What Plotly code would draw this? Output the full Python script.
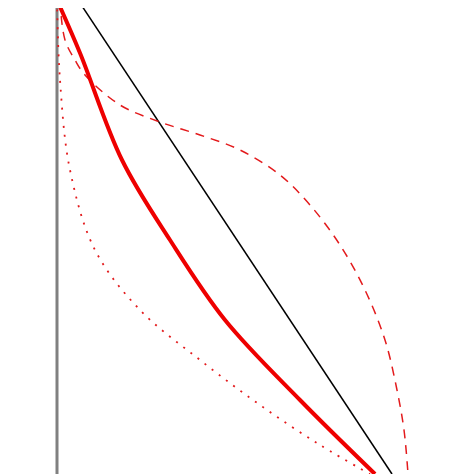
import plotly.graph_objects as go

# values in picture units (x right, y down)
solid_x = [57, 80, 122, 170, 225, 300, 375]
solid_y = [0, 53, 160, 240, 320, 400, 474]

dash_x = [60, 65, 75, 85, 120, 160, 200, 240, 280, 310, 340, 365, 385, 397, 404, 408]
dash_y = [0, 40, 60, 75, 105, 122, 135, 150, 175, 205, 245, 290, 340, 390, 430, 474]

dot_x = [57, 60, 70, 95, 140, 200, 260, 320, 370]
dot_y = [0, 80, 170, 250, 310, 360, 405, 445, 474]

black_x = [78, 392]
black_y = [0, 474]

red = '#e31a1c'

fig = go.Figure()
fig.add_trace(go.Scatter(x=[57, 57], y=[-10, 490], mode='lines',
                         line=dict(color='gray', width=3)))
fig.add_trace(go.Scatter(x=black_x, y=black_y, mode='lines',
                         line=dict(color='black', width=1.5)))
fig.add_trace(go.Scatter(x=dash_x, y=dash_y, mode='lines', line_shape='spline',
                         line=dict(color=red, width=1.5, dash='9px,7px')))
fig.add_trace(go.Scatter(x=dot_x, y=dot_y, mode='lines', line_shape='spline',
                         line=dict(color=red, width=1.8, dash='2px,7px')))
fig.add_trace(go.Scatter(x=solid_x, y=solid_y, mode='lines', line_shape='spline',
                         line=dict(color='#ee0000', width=4)))

# page body has an 8px margin, so shift the ranges to compensate
fig.update_layout(
    width=474, height=474, margin=dict(l=0, r=0, t=0, b=0),
    plot_bgcolor='white', paper_bgcolor='white', showlegend=False,
    xaxis=dict(range=[8, 482], visible=False),
    yaxis=dict(range=[482, 8], visible=False),
)
fig.write_html("out.html")
